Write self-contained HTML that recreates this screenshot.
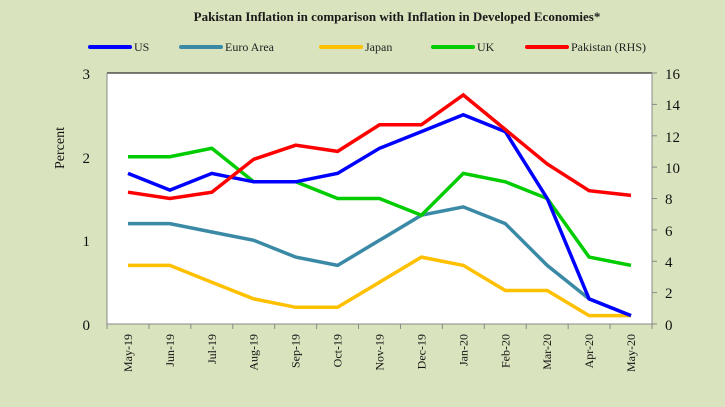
<!DOCTYPE html>
<html><head><style>body{margin:0;background:#d9e4bf;}svg{display:block}</style></head><body>
<svg width="725" height="407" xmlns="http://www.w3.org/2000/svg" font-family="Liberation Serif, serif">
<rect width="725" height="407" fill="#d9e4bf"/>
<text x="397" y="21" text-anchor="middle" font-size="13" font-weight="bold" fill="#1a1a1a">Pakistan Inflation in comparison with Inflation in Developed Economies*</text>
<g font-size="12" fill="#222" stroke-width="4" stroke-linecap="round">
<line x1="90" y1="47" x2="130" y2="47" stroke="#0000ff"/><text x="134" y="51" stroke="none">US</text>
<line x1="181" y1="47" x2="221" y2="47" stroke="#3a8aa6"/><text x="225" y="51" stroke="none">Euro Area</text>
<line x1="321" y1="47" x2="361" y2="47" stroke="#ffc000"/><text x="365" y="51" stroke="none">Japan</text>
<line x1="433" y1="47" x2="473" y2="47" stroke="#00cc00"/><text x="477" y="51" stroke="none">UK</text>
<line x1="527" y1="47" x2="567" y2="47" stroke="#ff0000"/><text x="571" y="51" stroke="none">Pakistan (RHS)</text>
</g>
<rect x="107" y="73" width="545" height="251" fill="#fff"/>
<line x1="107" y1="73" x2="652" y2="73" stroke="#000" stroke-width="1"/>
<line x1="107" y1="73" x2="107" y2="324" stroke="#888"/>
<line x1="652" y1="73" x2="652" y2="324" stroke="#888"/>
<line x1="107" y1="324" x2="652" y2="324" stroke="#888"/>
<g font-size="15" fill="#111">
<text x="90" y="79" text-anchor="end">3</text><text x="90" y="163" text-anchor="end">2</text><text x="90" y="246" text-anchor="end">1</text><text x="90" y="330" text-anchor="end">0</text>
<text x="665" y="79">16</text><text x="665" y="110">14</text><text x="665" y="142">12</text><text x="665" y="173">10</text><text x="665" y="204">8</text><text x="665" y="236">6</text><text x="665" y="267">4</text><text x="665" y="298">2</text><text x="665" y="330">0</text>
</g>
<g stroke="#888"><line x1="652" y1="73" x2="657" y2="73"/><line x1="652" y1="104.4" x2="657" y2="104.4"/><line x1="652" y1="135.8" x2="657" y2="135.8"/><line x1="652" y1="167.1" x2="657" y2="167.1"/><line x1="652" y1="198.5" x2="657" y2="198.5"/><line x1="652" y1="229.9" x2="657" y2="229.9"/><line x1="652" y1="261.3" x2="657" y2="261.3"/><line x1="652" y1="292.6" x2="657" y2="292.6"/><line x1="652" y1="324" x2="657" y2="324"/></g>
<text transform="translate(64,148) rotate(-90)" font-size="14" text-anchor="middle" fill="#111">Percent</text>
<g id="ticks" stroke="#888"></g>
<g id="lbl" font-size="12" fill="#111"></g>
<g id="lines" fill="none" stroke-width="3.5" stroke-linejoin="miter"></g>
<script>
var cats=["May-19","Jun-19","Jul-19","Aug-19","Sep-19","Oct-19","Nov-19","Dec-19","Jan-20","Feb-20","Mar-20","Apr-20","May-20"];
var w=545/13,ns="http://www.w3.org/2000/svg";
function X(i){return 107+w*(i+0.5);}
var t=document.getElementById("ticks"),l=document.getElementById("lbl"),g=document.getElementById("lines");
for(var i=0;i<=13;i++){var e=document.createElementNS(ns,"line");var x=107+w*i;e.setAttribute("x1",x);e.setAttribute("x2",x);e.setAttribute("y1",324);e.setAttribute("y2",329);t.appendChild(e);}
cats.forEach(function(c,i){var e=document.createElementNS(ns,"text");e.setAttribute("transform","translate("+(X(i)+4)+",334) rotate(-90)");e.setAttribute("text-anchor","end");e.textContent=c;l.appendChild(e);});
var S=[["#3a8aa6",[1.2,1.2,1.1,1.0,0.8,0.7,1.0,1.3,1.4,1.2,0.7,0.3,0.1],0],
["#ffc000",[0.7,0.7,0.5,0.3,0.2,0.2,0.5,0.8,0.7,0.4,0.4,0.1,0.1],0],
["#00cc00",[2.0,2.0,2.1,1.7,1.7,1.5,1.5,1.3,1.8,1.7,1.5,0.8,0.7],0],
["#0000ff",[1.8,1.6,1.8,1.7,1.7,1.8,2.1,2.3,2.5,2.3,1.5,0.3,0.1],0],
["#ff0000",[8.4,8.0,8.4,10.5,11.4,11.0,12.7,12.7,14.6,12.4,10.2,8.5,8.2],1]];
S.forEach(function(s){var p=s[1].map(function(v,i){var y=s[2]?324-v*251/16:324-v*251/3;return X(i).toFixed(1)+","+y.toFixed(1);}).join(" ");
var e=document.createElementNS(ns,"polyline");e.setAttribute("points",p);e.setAttribute("stroke",s[0]);g.appendChild(e);});
</script>
</svg>
</body></html>
